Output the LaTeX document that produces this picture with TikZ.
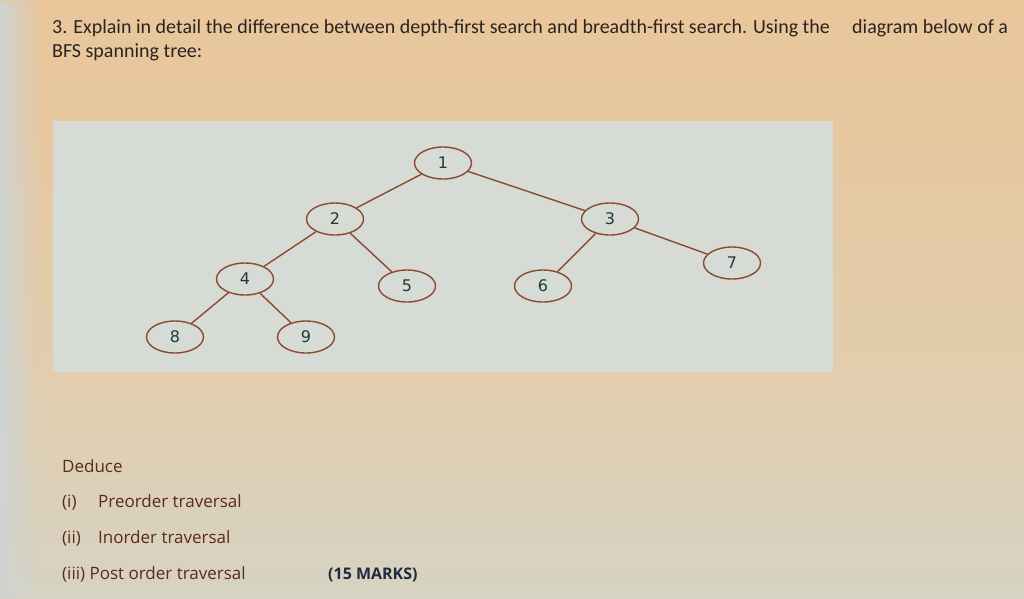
\documentclass[tikz,border=0pt]{standalone}
\usepackage{fontspec}
\setmainfont{Carlito}
\newfontfamily\bodyfont{Open Sans}
\newfontfamily\numfont{DejaVu Sans}
\usetikzlibrary{shapes.geometric,fadings}
\definecolor{bgtop}{HTML}{E9C69A}
\definecolor{bgmid}{HTML}{E2CDAE}
\definecolor{bgbot}{HTML}{D6D3C2}
\definecolor{strip}{HTML}{CFD4D2}
\definecolor{panel}{HTML}{D6DBD6}
\definecolor{edgec}{HTML}{8A4A30}
\definecolor{numc}{HTML}{1F3A3A}
\definecolor{hdr}{HTML}{2A2420}
\definecolor{bodyc}{HTML}{5A2A1E}
\definecolor{marksc}{HTML}{1E2A40}
\tikzset{
  vert/.style={draw=edgec, line width=1.4pt, ellipse, minimum width=57pt, minimum height=32pt, inner sep=0pt, font=\numfont\fontsize{16}{16}\selectfont, text=numc},
  treeedge/.style={draw=edgec, line width=1.4pt},
  hdrtext/.style={anchor=base west, inner sep=0pt, text=hdr, font=\fontsize{20}{22}\selectfont},
  bodytext/.style={anchor=base west, inner sep=0pt, text=bodyc, font=\bodyfont\fontsize{17}{19}\selectfont}
}
\begin{document}
\begin{tikzpicture}[x=1pt,y=-1pt]
\useasboundingbox (0,0) rectangle (1024,598);
% background
\shade[top color=bgtop, bottom color=bgmid] (0,0) rectangle (1024,380);
\shade[top color=bgmid, bottom color=bgbot] (0,380) rectangle (1024,598);
\fill[strip, path fading=east] (0,0) rectangle (40,598);
% panel
\fill[panel] (53,121) rectangle (833,372);
% header
\node[hdrtext] (h1) at (52,33) {3. Explain in detail the difference between depth-first search and breadth-first search. Using the};
\node[hdrtext] (h2) at (852,33) {diagram below of a};
\node[hdrtext] (h3) at (52,57) {BFS spanning tree:};
% tree
\node[vert] (n1) at (443,163) {1};
\node[vert] (n2) at (335,219) {2};
\node[vert] (n3) at (610,219) {3};
\node[vert] (n4) at (245,279) {4};
\node[vert] (n5) at (407,286) {5};
\node[vert] (n6) at (543,286) {6};
\node[vert] (n7) at (732,263) {7};
\node[vert] (n8) at (175,337) {8};
\node[vert] (n9) at (306,337) {9};
\draw[treeedge] (n1) -- (n2);
\draw[treeedge] (n1) -- (n3);
\draw[treeedge] (n2) -- (n4);
\draw[treeedge] (n2) -- (n5);
\draw[treeedge] (n3) -- (n6);
\draw[treeedge] (n3) -- (n7);
\draw[treeedge] (n4) -- (n8);
\draw[treeedge] (n4) -- (n9);
% bottom text
\node[bodytext] (d) at (62,472) {Deduce};
\node[bodytext] (i1) at (62,507) {(i)};
\node[bodytext] (t1) at (98,507) {Preorder traversal};
\node[bodytext] (i2) at (62,543) {(ii)};
\node[bodytext] (t2) at (98,543) {Inorder traversal};
\node[bodytext] (t3) at (62,579) {(iii) Post order traversal};
\node[bodytext, text=marksc, font=\bodyfont\bfseries\fontsize{16}{19}\selectfont] (m) at (328,579) {(15 MARKS)};
\end{tikzpicture}
\end{document}
